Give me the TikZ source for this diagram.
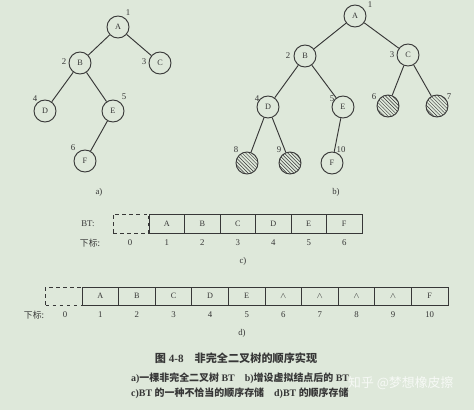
\documentclass[tikz,border=0pt]{standalone}
\usepackage{fontspec}
\setmainfont{Liberation Serif}
\newfontfamily\cjk{Noto Sans CJK SC}
\usepackage{xcolor}
\usetikzlibrary{patterns}

\definecolor{paper}{RGB}{222,232,218}
\definecolor{ink}{RGB}{55,55,55}

\tikzset{
  vertex/.style={circle, draw=ink, thick, minimum size=0.66cm, inner sep=0pt, text=ink, font=\fontsize{7}{8}\selectfont},
  dummy/.style={vertex, pattern=north west lines, pattern color=ink},
  num/.style={text=ink, inner sep=1pt, font=\fontsize{7.5}{9}\selectfont},
  cellc/.style={draw=ink, semithick, minimum width=1.065cm, minimum height=0.57cm, inner sep=0pt, text=ink, font=\fontsize{7}{8}\selectfont},
  celld/.style={cellc, minimum width=1.1cm, minimum height=0.54cm},
}

\begin{document}
\begin{tikzpicture}[x=0.03cm, y=-0.03cm]
    % 背景
    \fill[paper] (0,0) rectangle (474,410);

    % a) 非完全二叉树
    \node[vertex] (aA) at (118,27) {A};
    \node[vertex] (aB) at (80,63) {B};
    \node[vertex] (aC) at (160,63) {C};
    \node[vertex] (aD) at (45,111) {D};
    \node[vertex] (aE) at (113,111) {E};
    \node[vertex] (aF) at (85,161) {F};
    \node[num] (a1) at (128,13) {1};
    \node[num] (a2) at (64,62) {2};
    \node[num] (a3) at (144,62) {3};
    \node[num] (a4) at (35,99) {4};
    \node[num] (a5) at (124,97) {5};
    \node[num] (a6) at (73,148) {6};
    \draw[ink, thick] (aA) -- (aB);
    \draw[ink, thick] (aA) -- (aC);
    \draw[ink, thick] (aB) -- (aD);
    \draw[ink, thick] (aB) -- (aE);
    \draw[ink, thick] (aE) -- (aF);
    \node[num] (capa) at (99,192) {a)};

    % b) 增设虚拟结点
    \node[vertex] (bA) at (355,16) {A};
    \node[vertex] (bB) at (305,56) {B};
    \node[vertex] (bC) at (408,55) {C};
    \node[vertex] (bD) at (268,107) {D};
    \node[vertex] (bE) at (343,107) {E};
    \node[dummy] (b6) at (388,106) {};
    \node[dummy] (b7) at (437,106) {};
    \node[dummy] (b8) at (247,163) {};
    \node[dummy] (b9) at (290,163) {};
    \node[vertex] (bF) at (332,163) {F};
    \node[num] (l1) at (370,5) {1};
    \node[num] (l2) at (288,56) {2};
    \node[num] (l3) at (392,55) {3};
    \node[num] (l4) at (257,99) {4};
    \node[num] (l5) at (332,99) {5};
    \node[num] (l6) at (374,97) {6};
    \node[num] (l7) at (449,97) {7};
    \node[num] (l8) at (236,150) {8};
    \node[num] (l9) at (279,150) {9};
    \node[num] (l10) at (341,150) {10};
    \draw[ink, thick] (bA) -- (bB);
    \draw[ink, thick] (bA) -- (bC);
    \draw[ink, thick] (bB) -- (bD);
    \draw[ink, thick] (bB) -- (bE);
    \draw[ink, thick] (bC) -- (b6);
    \draw[ink, thick] (bC) -- (b7);
    \draw[ink, thick] (bD) -- (b8);
    \draw[ink, thick] (bD) -- (b9);
    \draw[ink, thick] (bE) -- (bF);
    \node[num] (capb) at (336,192) {b)};

    % c) 不恰当的顺序存储
    \node[num] (bt) at (88,224) {BT:};
    \node[cellc, dashed] (c0) at (131,223.5) {};
    \node[cellc] (c1) at (166.75,223.5) {A};
    \node[cellc] (c2) at (202.25,223.5) {B};
    \node[cellc] (c3) at (237.75,223.5) {C};
    \node[cellc] (c4) at (273.25,223.5) {D};
    \node[cellc] (c5) at (308.75,223.5) {E};
    \node[cellc] (c6) at (344.25,223.5) {F};
    \node[num] (ci) at (90,243) {\cjk 下标:};
    \node[num] (ci0) at (130,243) {0};
    \node[num] (ci1) at (166.75,243) {1};
    \node[num] (ci2) at (202.25,243) {2};
    \node[num] (ci3) at (237.75,243) {3};
    \node[num] (ci4) at (273.25,243) {4};
    \node[num] (ci5) at (308.75,243) {5};
    \node[num] (ci6) at (344.25,243) {6};
    \node[num] (capc) at (243,261) {c)};

    % d) 顺序存储
    \node[celld, dashed] (d0) at (64,296) {};
    \node[celld] (d1) at (100.3,296) {A};
    \node[celld] (d2) at (136.9,296) {B};
    \node[celld] (d3) at (173.5,296) {C};
    \node[celld] (d4) at (210.1,296) {D};
    \node[celld] (d5) at (246.7,296) {E};
    \node[celld] (d6) at (283.3,296) {$\wedge$};
    \node[celld] (d7) at (319.9,296) {$\wedge$};
    \node[celld] (d8) at (356.5,296) {$\wedge$};
    \node[celld] (d9) at (393.1,296) {$\wedge$};
    \node[celld] (d10) at (429.7,296) {F};
    \node[num] (di) at (34,315) {\cjk 下标:};
    \node[num] (di0) at (65,315) {0};
    \node[num] (di1) at (100.3,315) {1};
    \node[num] (di2) at (136.9,315) {2};
    \node[num] (di3) at (173.5,315) {3};
    \node[num] (di4) at (210.1,315) {4};
    \node[num] (di5) at (246.7,315) {5};
    \node[num] (di6) at (283.3,315) {6};
    \node[num] (di7) at (319.9,315) {7};
    \node[num] (di8) at (356.5,315) {8};
    \node[num] (di9) at (393.1,315) {9};
    \node[num] (di10) at (429.7,315) {10};
    \node[num] (capd) at (242,333) {d)};

    % 图题
    \node[text=ink, font=\fontsize{9.5}{11}\selectfont\bfseries] (title) at (236,358)
        {{\cjk 图} 4-8\quad{\cjk 非完全二叉树的顺序实现}};
    \node[text=ink, anchor=west, font=\fontsize{8.5}{10}\selectfont\bfseries] (cap1) at (127,378)
        {a){\cjk 一棵非完全二叉树} BT\quad b){\cjk 增设虚拟结点后的} BT};
    \node[text=ink, anchor=west, font=\fontsize{8.5}{10}\selectfont\bfseries] (cap2) at (127,393)
        {c)BT {\cjk 的一种不恰当的顺序存储}\quad d)BT {\cjk 的顺序存储}};
    % 水印
    \node[text=white, opacity=0.75, anchor=west, font=\fontsize{11}{12}\selectfont] (mark) at (344,383)
        {\cjk 知乎 @梦想橡皮擦};
\end{tikzpicture}
\end{document}
